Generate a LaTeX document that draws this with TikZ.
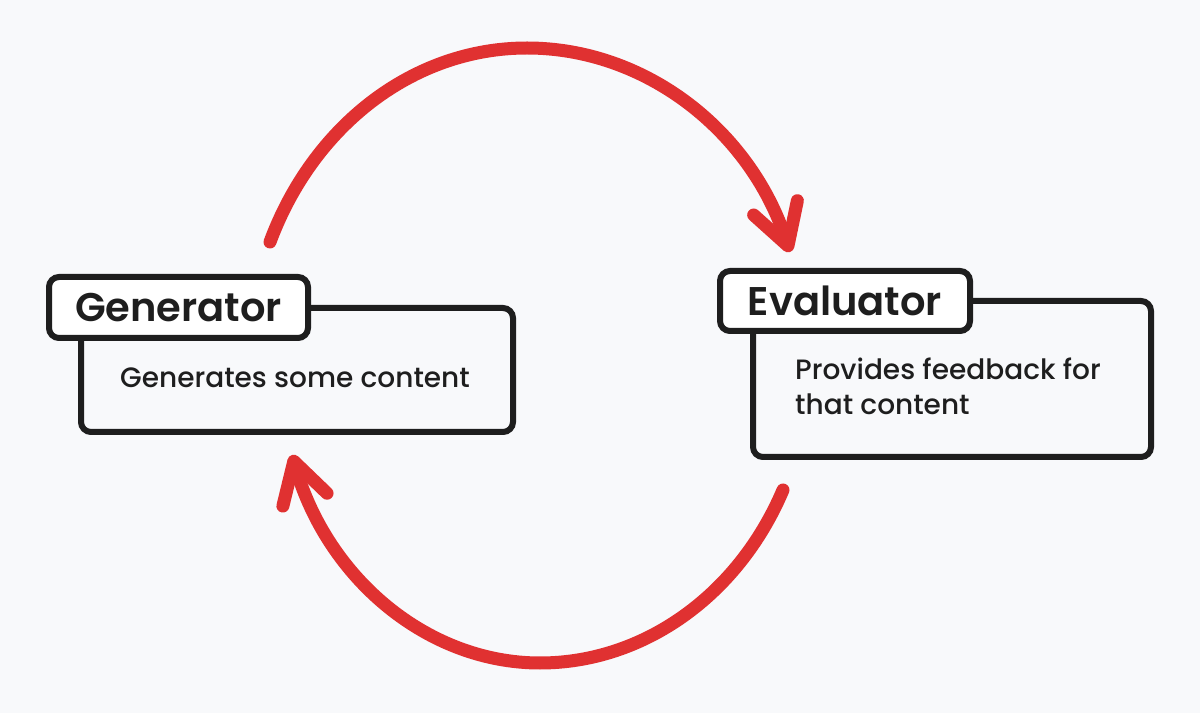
\documentclass[tikz,border=0pt]{standalone}
\usepackage{fontspec}
\setmainfont{Poppins}[UprightFont = *-Medium, BoldFont = *-SemiBold]
\usetikzlibrary{arrows.meta}

\definecolor{canvas}{HTML}{F8F9FB}
\definecolor{loopred}{HTML}{E03131}
\definecolor{ink}{HTML}{1E1E1E}

\tikzset{
  card/.style = {draw = ink, line width = 6pt, rounded corners = 10pt, fill = canvas},
  tab/.style = {draw = ink, line width = 6pt, rounded corners = 10pt, fill = white,
    text = ink, font = \fontsize{40}{48}\selectfont\bfseries},
  body/.style = {text = ink, inner sep = 0pt, font = \fontsize{28}{35}\selectfont},
  loop/.style = {draw = loopred, line width = 13pt, line cap = round,
    -{Straight Barb[length = 40pt, width = 46pt, round]}}
}

\begin{document}
\begin{tikzpicture}[x = 1pt, y = 1pt]
  \fill[canvas] (0, 0) rectangle (1200, 713);
  \useasboundingbox (0, 0) rectangle (1200, 713);

  \node[card, minimum width = 432pt, minimum height = 124pt] (gen box) at (297, 343) {};
  \node[tab, minimum width = 259pt, minimum height = 61pt] (gen tab) at (178.5, 405.5) {Generator};
  \node[body, anchor = base] (gen text) at (295, 325) {Generates some content};

  \node[card, minimum width = 398pt, minimum height = 156pt] (eval box) at (952, 334) {};
  \node[tab, minimum width = 250pt, minimum height = 60pt] (eval tab) at (845, 412) {Evaluator};
  \node[body, anchor = base west, align = left] (eval text) at (795, 298)
    {Provides feedback for\\that content};

  \coordinate (gen out) at (270, 471);
  \coordinate (eval in) at (790, 461);
  \coordinate (eval out) at (783, 223);
  \coordinate (gen in) at (292, 258);

  \draw[loop] (gen out) .. controls (313, 587) and (413, 665) .. (527, 665)
    .. controls (645, 665) and (750, 583) .. (eval in);
  \draw[loop] (eval out) .. controls (738, 117) and (643, 50) .. (540, 50)
    .. controls (428, 50) and (328, 134) .. (gen in);
\end{tikzpicture}
\end{document}
